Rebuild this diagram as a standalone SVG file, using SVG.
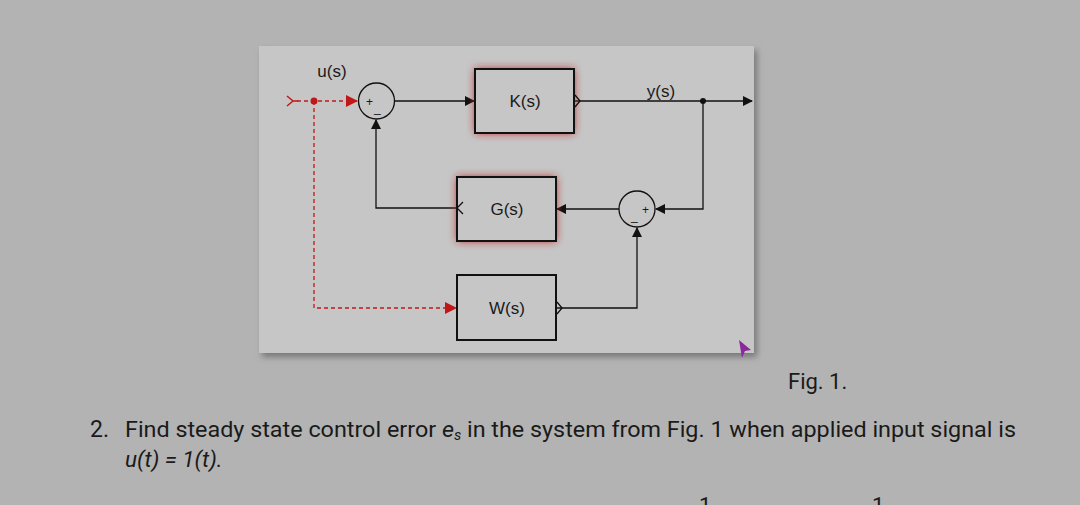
<svg xmlns="http://www.w3.org/2000/svg" width="1080" height="505" viewBox="0 0 1080 505">
<defs>
<style>
.t{font-family:"Liberation Sans",Arial,sans-serif;fill:#1a1a1a}
.r{font-family:Roboto,"Liberation Sans",sans-serif;fill:#1a1a1a}
.ln{stroke:#111;stroke-width:1.3;fill:none}
.rd{stroke:#c01818;stroke-width:1.3;fill:none;stroke-dasharray:4 3}
.box{fill:#c6c6c6;stroke:#111;stroke-width:2}
.sum{fill:#c6c6c6;stroke:#111;stroke-width:1.3}
</style>
<filter id="gl" x="-20%" y="-20%" width="140%" height="140%"><feGaussianBlur stdDeviation="4"/></filter>
<filter id="sh" x="-5%" y="-5%" width="110%" height="115%"><feGaussianBlur stdDeviation="3"/></filter>
<marker id="a" markerWidth="10" markerHeight="10" refX="9" refY="5" orient="auto" markerUnits="userSpaceOnUse"><path d="M0,0L10,5L0,10z" fill="#111"/></marker>
<marker id="ar" markerWidth="12" markerHeight="12" refX="11" refY="6" orient="auto" markerUnits="userSpaceOnUse"><path d="M0,0L12,6L0,12z" fill="#c01818"/></marker>
</defs>
<rect width="1080" height="505" fill="#b3b3b3"/>
<rect x="262" y="50" width="495" height="307" fill="#777" filter="url(#sh)"/>
<rect x="259" y="46" width="495" height="307" fill="#c6c6c6"/>
<g id="connectors">
<path class="ln" d="M395,101H474" marker-end="url(#a)"/>
<path class="ln" d="M574,101H752" marker-end="url(#a)"/>
<circle cx="703" cy="101" r="3" fill="#111"/>
<path class="ln" d="M703,101V209H656" marker-end="url(#a)"/>
<path class="ln" d="M619,209H557" marker-end="url(#a)"/>
<path class="ln" d="M476,208H376V120" marker-end="url(#a)"/>
<path class="ln" d="M556,308H637V228" marker-end="url(#a)"/>
<path class="rd" d="M297,101H357" marker-end="url(#ar)"/>
<path class="rd" d="M314,101V308H456" marker-end="url(#ar)"/>
<circle cx="314" cy="101" r="3.5" fill="#c01818"/>
<path d="M287,96L293,101L287,106M293,101H298" stroke="#c01818" stroke-width="1.5" fill="none"/>
</g>
<g id="sum1"><circle class="sum" cx="376.5" cy="101" r="18"/><text class="t" x="366" y="106" font-size="12">+</text><text class="t" x="374" y="112" font-size="12">_</text></g>
<g id="K"><rect x="475" y="69" width="99" height="64" fill="#c02020" filter="url(#gl)"/><rect class="box" x="475" y="69" width="99" height="64"/><text class="t" x="525" y="107" font-size="17" text-anchor="middle">K(s)</text><path d="M575,95L580,101L575,107" class="ln"/></g>
<g id="G"><rect x="457" y="177" width="99" height="64" fill="#c02020" filter="url(#gl)"/><rect class="box" x="457" y="177" width="99" height="64"/><text class="t" x="507" y="215" font-size="17" text-anchor="middle">G(s)</text><path d="M463,202L457,208L463,214" class="ln"/></g>
<g id="W"><rect class="box" x="457" y="275" width="99" height="65"/><text class="t" x="507" y="314" font-size="17" text-anchor="middle">W(s)</text><path d="M557,302L562,308L557,314" class="ln"/></g>
<g id="sum2"><circle class="sum" cx="637" cy="209" r="18"/><text class="t" x="642" y="214" font-size="12">+</text><text class="t" x="631" y="220" font-size="12">_</text></g>
<text class="t" x="332" y="77" font-size="17" text-anchor="middle">u(s)</text>
<text class="t" x="661" y="97" font-size="17" text-anchor="middle">y(s)</text>
<path d="M739,340L751,350L745,351L742,358z" fill="#8a2a9a"/>
<text class="r" x="788" y="389" font-size="22">Fig. 1.</text>
<text class="r" x="90" y="437" font-size="23">2.</text>
<text class="r" x="125" y="437" font-size="22.5" textLength="891" lengthAdjust="spacingAndGlyphs">Find steady state control error <tspan font-style="italic">e</tspan><tspan font-style="italic" font-size="14" dy="3">s</tspan><tspan dy="-3"> in the system from Fig. 1 when applied input signal is</tspan></text>
<text class="r" x="125" y="467" font-size="22.5" font-style="italic">u(t) = 1(t).</text>
<text class="r" x="699" y="513" font-size="22">1</text>
<text class="r" x="872" y="513" font-size="22">1</text>
</svg>
